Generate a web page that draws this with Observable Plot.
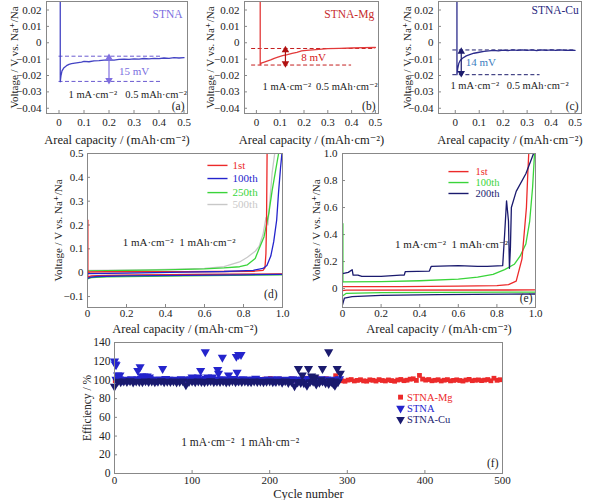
<!DOCTYPE html>
<html><head><meta charset="utf-8">
<script src="https://cdn.jsdelivr.net/npm/d3@7"></script>
<script src="https://cdn.jsdelivr.net/npm/@observablehq/plot@0.6"></script>
<style>
body{margin:0;background:#fff;}
#fig{position:relative;width:591px;height:500px;overflow:hidden;background:#fff;}
</style></head><body><div id="fig"></div>
<script>
// ---------------- data ----------------
const yTicksTop = [0.02, 0.01, 0, -0.01, -0.02, -0.03, -0.04];
const xTicksTop = [0, 0.1, 0.2, 0.3, 0.4, 0.5];
const xTicksMid = [0, 0.2, 0.4, 0.6, 0.8, 1.0];
const yTicksD = [-0.1, 0, 0.1, 0.2, 0.3, 0.4, 0.5];
const yTicksE = [0, 0.2, 0.4, 0.6, 0.8, 1.0];
const xTicksF = [0, 100, 200, 300, 400, 500];
const yTicksF = [0, 20, 40, 60, 80, 100, 120, 140];

const yLabelV = "Voltage / V vs. Na⁺/Na";
const xLabelCap = "Areal capacity / (mAh·cm⁻²)";

// (a) STNA
const stnaCurve = [[0.005,0.03],[0.005,-0.0238],[0.008,-0.02],[0.012,-0.0172],[0.02,-0.0152],[0.03,-0.014],[0.04,-0.0132],[0.05,-0.0128],[0.07,-0.0123],[0.09,-0.0118],[0.1,-0.0114],[0.12,-0.0116],[0.14,-0.011],[0.16,-0.0109],[0.18,-0.0106],[0.2,-0.0104],[0.22,-0.0106],[0.24,-0.0101],[0.26,-0.0100],[0.28,-0.0102],[0.3,-0.0098],[0.32,-0.0100],[0.34,-0.0096],[0.36,-0.0098],[0.38,-0.0095],[0.4,-0.0097],[0.42,-0.0093],[0.44,-0.0095],[0.46,-0.0091],[0.48,-0.0093],[0.5,-0.0091]];
const stnaDash = [{y:-0.0082,x1:0,x2:0.41},{y:-0.0236,x1:0,x2:0.41}];
const stnaArrow = {x:0.2, top:-0.0092, bot:-0.0228};
// (b) STNA-Mg
const mgCurve = [[0.016,0.03],[0.016,-0.0135],[0.02,-0.0125],[0.03,-0.012],[0.045,-0.0112],[0.06,-0.0105],[0.075,-0.0095],[0.09,-0.0088],[0.11,-0.0078],[0.13,-0.0072],[0.15,-0.0065],[0.17,-0.0058],[0.19,-0.005],[0.21,-0.0046],[0.25,-0.0042],[0.3,-0.0036],[0.35,-0.0034],[0.4,-0.0032],[0.45,-0.003],[0.5,-0.0029]];
const mgDash = [{y:-0.0035,x1:-0.02,x2:0.5},{y:-0.0136,x1:-0.02,x2:0.4}];
const mgArrow = {x:0.122, top:-0.0045, bot:-0.0126};
// (c) STNA-Cu
const cuCurve = [[0.007,0.03],[0.007,-0.0195],[0.01,-0.016],[0.015,-0.0125],[0.02,-0.011],[0.03,-0.0095],[0.046,-0.008],[0.06,-0.0072],[0.078,-0.0064],[0.1,-0.0058],[0.12,-0.0052],[0.14,-0.005],[0.16,-0.0046],[0.18,-0.0049],[0.2,-0.0045],[0.22,-0.0048],[0.24,-0.0044],[0.26,-0.0047],[0.28,-0.0043],[0.3,-0.0047],[0.32,-0.0044],[0.34,-0.0048],[0.36,-0.0044],[0.38,-0.0047],[0.4,-0.0043],[0.42,-0.0047],[0.44,-0.0044],[0.46,-0.0046],[0.48,-0.0045],[0.5,-0.0047]];
const cuDash = [{y:-0.0044,x1:-0.01,x2:0.5},{y:-0.0195,x1:-0.01,x2:0.354}];
const cuArrow = {x:0.025, top:-0.0054, bot:-0.0186};

// (d) 1 mA cm-2, 1 mAh cm-2 (cycles 1st/100th/250th/500th)
const d1Spike = [[0.002,0.22],[0.002,-0.018]];
const d1Plate = [[0.002,-0.018],[0.02,-0.013],[0.1,-0.011],[0.3,-0.009],[0.6,-0.007],[0.9,-0.006],[1.0,-0.005]];
const d1Strip = [[0,0.003],[0.1,0.004],[0.5,0.004],[0.85,0.006],[0.9,0.01],[0.91,0.02],[0.915,0.08],[0.918,0.2],[0.921,0.5]];
const d100Plate = [[0,-0.025],[0.01,-0.02],[0.05,-0.016],[0.2,-0.013],[0.5,-0.011],[0.8,-0.009],[1,-0.007]];
const d100Strip = [[0,-0.004],[0.2,-0.002],[0.5,0.002],[0.7,0.005],[0.85,0.01],[0.9,0.018],[0.92,0.03],[0.94,0.07],[0.955,0.13],[0.97,0.22],[0.98,0.34],[0.99,0.44],[0.997,0.5]];
const d250Plate = [[0,-0.026],[0.02,-0.021],[0.1,-0.017],[0.5,-0.013],[1,-0.009]];
const d250Strip = [[0,0.008],[0.2,0.01],[0.4,0.012],[0.6,0.016],[0.7,0.02],[0.78,0.025],[0.82,0.033],[0.86,0.06],[0.88,0.1],[0.905,0.15],[0.93,0.25],[0.947,0.345],[0.965,0.43],[0.98,0.5]];
const d500Plate = [[0,-0.02],[0.05,-0.012],[0.5,-0.007],[1,-0.005]];
const d500Strip = [[0,0.01],[0.3,0.012],[0.6,0.018],[0.7,0.025],[0.78,0.045],[0.82,0.065],[0.86,0.09],[0.88,0.11],[0.9,0.16],[0.915,0.23],[0.92,0.235],[0.925,0.2],[0.935,0.3],[0.947,0.42],[0.96,0.5]];
const dLegend = ["1st","100th","250th","500th"];

// (e) cycles 1st/100th/200th
const e1Plate = [[0,-0.015],[0.02,-0.012],[1,-0.01]];
const e1Strip = [[0,0.015],[0.3,0.015],[0.6,0.018],[0.8,0.022],[0.86,0.03],[0.9,0.055],[0.93,0.22],[0.953,0.6],[0.96,0.85],[0.965,1.0]];
const e100Spike = [[0.002,0.48],[0.002,0.05]];
const e100Plate = [[0,-0.055],[0.02,-0.035],[0.2,-0.03],[1,-0.026]];
const e100Strip = [[0,0.05],[0.2,0.052],[0.4,0.058],[0.6,0.07],[0.7,0.085],[0.78,0.105],[0.84,0.14],[0.89,0.18],[0.92,0.24],[0.95,0.33],[0.97,0.5],[0.985,0.75],[0.995,1.0]];
const e200Plate = [[0,-0.12],[0.01,-0.07],[0.05,-0.06],[0.2,-0.05],[0.5,-0.045],[1,-0.04]];
const e200Strip = [[0,0.11],[0.03,0.12],[0.05,0.14],[0.055,0.1],[0.08,0.1],[0.1,0.09],[0.2,0.09],[0.3,0.1],[0.32,0.1],[0.325,0.125],[0.45,0.13],[0.46,0.165],[0.6,0.17],[0.7,0.165],[0.75,0.165],[0.83,0.17],[0.84,0.4],[0.85,0.65],[0.86,0.5],[0.865,0.15],[0.87,0.3],[0.875,0.6],[0.9,0.72],[0.95,0.85],[0.99,1.0]];
const eLegend = ["1st","100th","200th"];

// (f) Coulombic efficiency (every 4th cycle) and outliers
const mgEff = [
99.2,100.1,99.6,98.9,100.3,99.5,99.8,100.4,99.1,99.7,
100.0,99.4,100.2,99.0,99.6,100.5,99.3,99.9,100.1,98.8,
99.7,100.3,99.5,99.2,100.0,99.6,100.4,99.1,99.8,100.2,
99.4,99.9,100.6,99.3,99.7,100.1,98.9,99.6,100.3,99.5,
99.8,100.0,99.2,100.4,99.6,99.1,100.2,99.7,100.8,99.4,
101.5,100.1,99.6,100.9,99.3,100.2,99.8,101.2,99.5,100.0,
99.7,100.6,101.8,99.4,100.3,102.0,99.9,100.7,101.3,99.6,
100.2,104.5,101.0,99.1,98.6,99.8,100.4,98.9,99.5,100.2,
99.0,98.7,100.1,99.6,98.8,100.3,99.4,98.9,100.0,99.3,
98.6,99.9,100.5,99.2,99.7,100.8,101.2,99.5,104.8,100.9,
99.8,100.4,99.1,99.6,100.2,98.9,99.7,100.3,99.0,99.5,
100.1,99.4,98.8,99.9,100.6,99.2,99.7,100.0,99.3,99.8,
100.4,99.1,101.8,99.6,100.2];
const stnaEff = [
100.5,101.2,99.8,100.6,100.2,101.0,99.9,100.8,101.5,100.3,
100.0,101.1,100.4,99.7,100.9,100.2,101.3,100.6,99.9,100.7,
100.3,101.0,100.5,99.8,101.2,100.1,100.8,100.4,99.6,101.4,
100.2,100.9,99.9,100.6,101.1,100.3,100.0,100.7,101.3,99.8,
100.5,101.0,100.2,99.7,100.8,101.6,100.1,100.4,99.9,100.9,
100.6,99.5,101.2,100.3,99.8,100.7,100.0,101.1,99.6,100.4,
100.9,99.7,101.3,100.2,99.9,100.6,101.0,99.5,100.8,100.1,
99.8,100.5,101.2];
const stnaOut = [[0,120],[1,117],[2,116],[4,105],[7,105],[30,110],[33,114],[35,104],[38,104],[42,104],[45,103],[62,112],[100,103],[108,103],[111,110],[117,130],[120,103],[126,103],[133,111],[134,107],[139,124],[147,105],[157,125],[158,108],[160,127],[163,127]];
const cuEff = [
93.0,98.4,97.8,98.7,98.1,99.0,97.6,98.5,98.2,97.9,
98.8,98.0,98.6,97.7,98.3,98.9,97.8,98.4,98.1,98.7,
97.5,98.2,98.8,94.5,98.0,98.5,97.9,98.6,98.2,97.7,
98.4,98.9,97.8,98.3,98.1,98.7,97.6,98.2,98.8,97.9,
98.5,98.0,98.6,98.2,97.8,98.7,98.1,98.4,97.7,98.3,
98.6,97.9,98.2,98.5,97.4,98.8,97.0,98.1,93.5,97.6,
98.2,96.7,94.0,98.0,98.4,95.5,97.2,98.5,96.8,96.0,
97.7,98.6,97.8];
const cuOut = [[237,112],[242,105],[250,112],[254,104],[258,103],[268,112],[276,130],[287,112],[291,107],[282,96],[284,94],[240,97],[266,100],[278,99]];
const fLegend = ["STNA-Mg","STNA","STNA-Cu"];

// ---------------- styling ----------------
const FONT = '"Liberation Serif","DejaVu Serif",serif';
const RED = "#ec2a2a", BLUE = "#2424cc", GREEN = "#3ad43a", LGRAY = "#c8c8c8", NAVY = "#1a1a6e";
const FRAME = "#888";
const fig = document.getElementById("fig");
const fmt = p => d => Math.abs(d) < 1e-9 ? "0" : d3.format("." + p + "f")(d);
const pts = arr => arr.map(([x, y]) => ({x, y}));
function place(svg, left, top) {
  svg.style.position = "absolute";
  svg.style.left = left + "px";
  svg.style.top = top + "px";
  svg.style.overflow = "visible";
  svg.style.background = "transparent";
  svg.style.font = "11px " + FONT;
  svg.style.color = "#222";
  svg.style.maxWidth = "none";
  fig.appendChild(svg);
}
// short inward tick marks on bottom and left edges
function inTicks(xt, yt, xd, yd, pw, ph) {
  const ly = 3 * (yd[1] - yd[0]) / ph, lx = 3 * (xd[1] - xd[0]) / pw;
  return [
    Plot.ruleX(xt, {x: d => d, y1: yd[0], y2: yd[0] + ly, stroke: FRAME}),
    Plot.ruleY(yt, {y: d => d, x1: xd[0], x2: xd[0] + lx, stroke: FRAME})
  ];
}
function xLabel(text, offset) {
  return Plot.axisX({ticks: [], tickSize: 0, label: text, labelAnchor: "center", labelArrow: "none", labelOffset: offset, fontSize: 12.5});
}

// ---------------- top panels ----------------
function topPanel(o) {
  const yd = [-0.0432, 0.0252];
  const svg = Plot.plot({
    width: o.width, height: 145,
    marginLeft: o.mL, marginRight: o.mR, marginTop: 1, marginBottom: 32,
    x: {domain: o.xDomain},
    y: {domain: yd},
    marks: [
      Plot.axisY({ticks: yTicksTop, tickFormat: fmt(2), tickSize: 0, tickPadding: 5, label: yLabelV, labelAnchor: "center", labelArrow: "none", labelOffset: o.yLabOff}),
      Plot.axisX({ticks: xTicksTop, tickFormat: fmt(1), tickSize: 0, tickPadding: 5, label: null}),
      xLabel(xLabelCap, 30),
      ...inTicks(xTicksTop, yTicksTop, o.xDomain, yd, o.width - o.mL - o.mR, 112),
      Plot.ruleY(o.dashes, {y: "y", x1: "x1", x2: "x2", stroke: o.dashColor, strokeDasharray: "4,2.5", strokeWidth: 1}),
      Plot.line(pts(o.curve), {x: "x", y: "y", stroke: o.color, strokeWidth: 1.3, clip: true}),
      Plot.ruleX([o.arrow], {x: "x", y1: "top", y2: "bot", stroke: o.arrowColor, strokeWidth: 1.2}),
      Plot.dot([o.arrow], {x: "x", y: "top", symbol: "triangle", r: 2.8, fill: o.arrowColor, stroke: "none"}),
      Plot.dot([o.arrow], {x: "x", y: "bot", symbol: "triangle", rotate: 180, r: 2.8, fill: o.arrowColor, stroke: "none"}),
      Plot.text([o.mv], {x: d => d[0], y: d => d[1], text: d => d[2], fill: o.mvColor, fontSize: 11, textAnchor: "middle"}),
      Plot.text([o.name], {x: d => d[0], y: d => d[1], text: d => d[2], fill: o.nameColor, fontSize: 11.5, textAnchor: "middle"}),
      Plot.text(o.cond, {x: d => d[0], y: d => d[1], text: d => d[2], fill: "#222", fontSize: 10.5, textAnchor: "start"}),
      Plot.text([o.tag], {frameAnchor: "bottom-right", text: d => d, dx: -3, dy: -4, fontSize: 11.5, fill: "#222"}),
      Plot.frame({stroke: FRAME})
    ]
  });
  place(svg, o.left, 0);
}

topPanel({left: 0, width: 195, mL: 46, mR: 8, xDomain: [-0.05, 0.514], yLabOff: 36,
  curve: stnaCurve, color: "#4343c4", dashes: stnaDash, dashColor: "#6a5ad0", arrow: stnaArrow, arrowColor: "#8070e0",
  mv: [0.3, -0.0176, "15 mV"], mvColor: "#7a6ee0", name: [0.434, 0.0172, "STNA"], nameColor: "#7a6ee0",
  cond: [[0.038, -0.0318, "1 mA·cm⁻²"], [0.265, -0.0318, "0.5 mAh·cm⁻²"]], tag: "(a)"});
topPanel({left: 195, width: 195, mL: 49, mR: 12, xDomain: [-0.05, 0.513], yLabOff: 38,
  curve: mgCurve, color: "#e23a3a", dashes: mgDash, dashColor: "#c41e1e", arrow: mgArrow, arrowColor: "#b01010",
  mv: [0.24, -0.0092, "8 mV"], mvColor: "#d42020", name: [0.39, 0.0172, "STNA-Mg"], nameColor: "#c62c2c",
  cond: [[0.026, -0.0268, "1 mA·cm⁻²"], [0.25, -0.0268, "0.5 mAh·cm⁻²"]], tag: "(b)"});
topPanel({left: 390, width: 201, mL: 48, mR: 10, xDomain: [-0.07, 0.527], yLabOff: 35,
  curve: cuCurve, color: "#2c2c8c", dashes: cuDash, dashColor: "#1c1c6c", arrow: cuArrow, arrowColor: "#1c1c6c",
  mv: [0.107, -0.012, "14 mV"], mvColor: "#3a7cc0", name: [0.417, 0.02, "STNA-Cu"], nameColor: "#2a2a80",
  cond: [[-0.02, -0.026, "1 mA·cm⁻²"], [0.215, -0.026, "0.5 mAh·cm⁻²"]], tag: "(c)"});

// ---------------- panel (d) ----------------
{
  const curves = [
    [d500Plate, "#b0b0b0"], [d500Strip, LGRAY],
    [d250Plate, GREEN], [d250Strip, GREEN],
    [d1Spike, RED], [d1Plate, RED], [d1Strip, RED],
    [d100Plate, BLUE], [d100Strip, BLUE]
  ];
  const dColors = [RED, BLUE, GREEN, LGRAY];
  const legY = [0.45, 0.395, 0.336, 0.286];
  const xd = [0, 1], yd = [-0.146, 0.5];
  const svg = Plot.plot({
    width: 300, height: 200, marginLeft: 87, marginRight: 18, marginTop: 13, marginBottom: 33,
    x: {domain: xd}, y: {domain: yd},
    marks: [
      Plot.axisY({ticks: yTicksD, tickFormat: fmt(1), tickSize: 0, tickPadding: 4, label: yLabelV, labelAnchor: "center", labelArrow: "none", labelOffset: 33}),
      Plot.axisX({ticks: xTicksMid, tickFormat: fmt(1), tickSize: 0, tickPadding: 2, label: null}),
      xLabel(xLabelCap, 25),
      ...inTicks(xTicksMid, yTicksD, xd, yd, 195, 154),
      ...curves.map(([c, col]) => Plot.line(pts(c), {x: "x", y: "y", stroke: col, strokeWidth: 1.3, clip: true})),
      Plot.link(dLegend, {x1: 0.615, x2: 0.718, y1: (d, i) => legY[i], y2: (d, i) => legY[i], stroke: (d, i) => dColors[i], strokeWidth: 1.4}),
      Plot.text(dLegend, {x: 0.744, y: (d, i) => legY[i], text: d => d, fill: (d, i) => dColors[i], textAnchor: "start", fontSize: 11}),
      Plot.text(["1 mA·cm⁻²  1 mAh·cm⁻²"], {x: 0.47, y: 0.126, text: d => d, fontSize: 11, fill: "#222"}),
      Plot.text(["(d)"], {frameAnchor: "bottom-right", text: d => d, dx: -5, dy: -10, fontSize: 11.5, fill: "#222"}),
      Plot.frame({stroke: FRAME})
    ]
  });
  place(svg, 0, 140);
}

// ---------------- panel (e) ----------------
{
  const curves = [
    [e100Spike, GREEN], [e100Plate, GREEN], [e100Strip, GREEN],
    [e1Plate, RED], [e1Strip, RED],
    [e200Plate, NAVY], [e200Strip, NAVY]
  ];
  const eColors = [RED, GREEN, NAVY];
  const legY = [0.866, 0.785, 0.704];
  const xd = [0, 1], yd = [-0.14, 1.0];
  const svg = Plot.plot({
    width: 291, height: 200, marginLeft: 42, marginRight: 56, marginTop: 13, marginBottom: 33,
    x: {domain: xd}, y: {domain: yd},
    marks: [
      Plot.axisY({ticks: yTicksE, tickFormat: fmt(1), tickSize: 0, tickPadding: 5, label: yLabelV, labelAnchor: "center", labelArrow: "none", labelOffset: 30}),
      Plot.axisX({ticks: xTicksMid, tickFormat: fmt(1), tickSize: 0, tickPadding: 2, label: null}),
      xLabel(xLabelCap, 25),
      ...inTicks(xTicksMid, yTicksE, xd, yd, 193, 154),
      ...curves.map(([c, col]) => Plot.line(pts(c), {x: "x", y: "y", stroke: col, strokeWidth: 1.3, clip: true})),
      Plot.link(eLegend, {x1: 0.549, x2: 0.653, y1: (d, i) => legY[i], y2: (d, i) => legY[i], stroke: (d, i) => eColors[i], strokeWidth: 1.4}),
      Plot.text(eLegend, {x: 0.689, y: (d, i) => legY[i], text: d => d, fill: (d, i) => eColors[i], textAnchor: "start", fontSize: 10.5}),
      Plot.text(["1 mA·cm⁻²  1 mAh·cm⁻²"], {x: 0.565, y: 0.325, text: d => d, fontSize: 11, fill: "#222"}),
      Plot.text(["(e)"], {frameAnchor: "bottom-right", text: d => d, dx: -3, dy: -6, fontSize: 11.5, fill: "#222"}),
      Plot.frame({stroke: FRAME})
    ]
  });
  place(svg, 300, 140);
}

// ---------------- panel (f) ----------------
{
  const mg = mgEff.map((v, i) => ({c: 1 + 4 * i, v}));
  const stna = stnaEff.map((v, i) => ({c: 2 + 4 * i, v})).concat(stnaOut.map(([c, v]) => ({c, v})));
  const cu = cuEff.map((v, i) => ({c: 4 * i, v})).concat(cuOut.map(([c, v]) => ({c, v})));
  const fColors = [RED, BLUE, NAVY];
  const legY = [81.6, 69.6, 57.6];
  const xd = [0, 500], yd = [0, 140];
  const svg = Plot.plot({
    width: 591, height: 170, marginLeft: 114, marginRight: 89, marginTop: 12, marginBottom: 27,
    x: {domain: xd}, y: {domain: yd},
    marks: [
      Plot.axisY({ticks: yTicksF, tickSize: 0, tickPadding: 4, label: "Efficiency / %", labelAnchor: "center", labelArrow: "none", labelOffset: 32, fontSize: 11.5}),
      Plot.axisX({ticks: xTicksF, tickSize: 0, tickPadding: 3, label: null}),
      xLabel("Cycle number", 24),
      ...inTicks(xTicksF, yTicksF, xd, yd, 388, 131),
      Plot.dot(mg, {x: "c", y: "v", symbol: "square", r: 2.7, fill: RED, stroke: "none"}),
      Plot.dot(stna, {x: "c", y: "v", symbol: "triangle", rotate: 180, r: 3.4, fill: BLUE, stroke: "none"}),
      Plot.dot(cu, {x: "c", y: "v", symbol: "triangle", rotate: 180, r: 3.4, fill: NAVY, stroke: "none"}),
      Plot.dot(fLegend, {x: 368.6, y: (d, i) => legY[i], symbol: (d, i) => i === 0 ? "square" : "triangle", rotate: (d, i) => i === 0 ? 0 : 180, r: (d, i) => i === 0 ? 2.2 : 3, fill: (d, i) => fColors[i], stroke: "none"}),
      Plot.text(fLegend, {x: 377, y: (d, i) => legY[i], text: d => d, fill: (d, i) => fColors[i], textAnchor: "start", fontSize: 10.5}),
      Plot.text(["1 mA·cm⁻²  1 mAh·cm⁻²"], {x: 162, y: 33, text: d => d, fontSize: 11.5, fill: "#222"}),
      Plot.text(["(f)"], {frameAnchor: "bottom-right", text: d => d, dx: -4, dy: -7, fontSize: 11.5, fill: "#222"}),
      Plot.frame({stroke: FRAME})
    ]
  });
  place(svg, 0, 330);
}
</script></body></html>
